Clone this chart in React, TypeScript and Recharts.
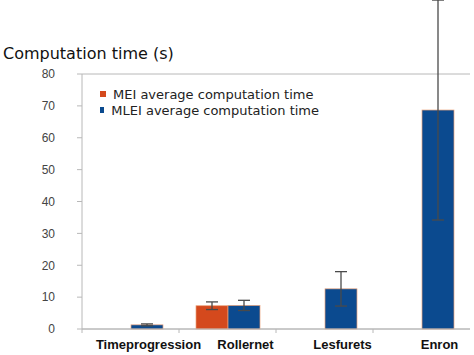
import React from 'react';
import { BarChart, Bar, XAxis, YAxis, CartesianGrid } from 'recharts';

const categories = ['Timeprogression', 'Rollernet', 'Lesfurets', 'Enron'];
const meiValues: (number | null)[] = [null, 7.3, null, null];
const meiErrors: (number | null)[] = [null, 1.2, null, null];
const mleiValues: (number | null)[] = [1.3, 7.4, 12.6, 68.7];
const mleiErrors: (number | null)[] = [0.3, 1.6, 5.4, 34.5];
const yTicks = [0, 10, 20, 30, 40, 50, 60, 70, 80];

const seriesNames = {
  mei: 'MEI average computation time',
  mlei: 'MLEI average computation time',
};

const data = categories.map((c, i) => ({
  name: c,
  mei: meiValues[i],
  meiErr: meiErrors[i],
  mlei: mleiValues[i],
  mleiErr: mleiErrors[i],
}));

const MEI_COLOR = '#d4491d';
const MLEI_COLOR = '#0b4a8f';
const GRID = '#b8b8b8';

const makeShape = (valKey: string, errKey: string) => (props: any) => {
  const { x, y, width, height, fill, payload } = props;
  const v = payload?.[valKey];
  if (v == null || !height) return <g />;
  const e = payload?.[errKey] ?? 0;
  const ppu = height / v;
  const cx = x + width / 2;
  const top = y - e * ppu;
  const bot = y + e * ppu;
  const cap = 6;
  return (
    <g>
      <rect x={x} y={y} width={width} height={height} fill={fill} stroke="#eba27a" strokeWidth={0.7} />
      <line x1={cx} y1={top} x2={cx} y2={bot} stroke="#4a4a4a" strokeWidth={1.3} />
      <line x1={cx - cap} y1={top} x2={cx + cap} y2={top} stroke="#4a4a4a" strokeWidth={1.3} />
      <line x1={cx - cap} y1={bot} x2={cx + cap} y2={bot} stroke="#4a4a4a" strokeWidth={1.3} />
    </g>
  );
};

const XTick = (props: any) => {
  const { x, y, payload } = props;
  const off = payload?.offset ?? 0;
  return (
    <g>
      <line x1={x - off} y1={y - 4} x2={x - off} y2={y} stroke={GRID} strokeWidth={1} />
      <text
        x={x + 18}
        y={y + 16}
        textAnchor="middle"
        fontFamily="'Liberation Sans', Arial, sans-serif"
        fontWeight="bold"
        fontSize={13}
        fill="#111"
      >
        {payload.value}
      </text>
    </g>
  );
};

const LegendBox = () => {
  const items = [
    { name: seriesNames.mei, color: MEI_COLOR },
    { name: seriesNames.mlei, color: MLEI_COLOR },
  ];
  return (
    <div
      style={{
        position: 'absolute',
        left: 97,
        top: 85,
        width: 222,
        background: '#fff',
        padding: '1px 0 2px 0',
        fontFamily: "'DejaVu Sans', sans-serif",
        fontSize: 13,
        color: '#222',
        whiteSpace: 'nowrap',
      }}
    >
      {items.map((it) => (
        <div key={it.name} style={{ display: 'flex', alignItems: 'center', height: 16, paddingLeft: 3 }}>
          <span style={{ display: 'inline-block', width: 6, height: 6, background: it.color, marginRight: 7 }} />
          <span>{it.name}</span>
        </div>
      ))}
    </div>
  );
};

export default function App() {
  return (
    <div style={{ position: 'absolute', left: 0, top: 0, width: 474, height: 355, background: '#fff' }}>
      <div
        style={{
          position: 'absolute',
          left: 3,
          top: 44,
          fontFamily: "'DejaVu Sans', sans-serif",
          fontSize: 16,
          lineHeight: '20px',
          color: '#111',
          whiteSpace: 'nowrap',
        }}
      >
        Computation time (s)
      </div>
      <div style={{ position: 'absolute', left: 0, top: 0 }}>
        <BarChart
          width={474}
          height={355}
          data={data}
          margin={{ top: 74, right: 4, left: 22, bottom: 4 }}
          barGap={0}
          barSize={32}
        >
          <CartesianGrid vertical={false} stroke={GRID} />
          <XAxis
            dataKey="name"
            height={22}
            tickSize={4}
            tickMargin={0}
            tickLine={false}
            axisLine={{ stroke: GRID }}
            tick={<XTick />}
            interval={0}
          />
          <YAxis
            yAxisId="left"
            width={60}
            domain={[0, 80]}
            ticks={yTicks}
            tickSize={5}
            tickMargin={22}
            axisLine={{ stroke: GRID }}
            tickLine={{ stroke: GRID }}
            tick={{ fontFamily: "'Liberation Sans', Arial, sans-serif", fontSize: 12, fill: '#444' }}
          />
          <YAxis
            yAxisId="right"
            orientation="right"
            width={0}
            domain={[0, 80]}
            tick={false}
            tickLine={false}
            axisLine={{ stroke: GRID }}
          />
          <Bar
            yAxisId="left"
            dataKey="mei"
            name={seriesNames.mei}
            fill={MEI_COLOR}
            isAnimationActive={false}
            shape={makeShape('mei', 'meiErr')}
          />
          <Bar
            yAxisId="left"
            dataKey="mlei"
            name={seriesNames.mlei}
            fill={MLEI_COLOR}
            isAnimationActive={false}
            shape={makeShape('mlei', 'mleiErr')}
          />
        </BarChart>
      </div>
      <LegendBox />
    </div>
  );
}
